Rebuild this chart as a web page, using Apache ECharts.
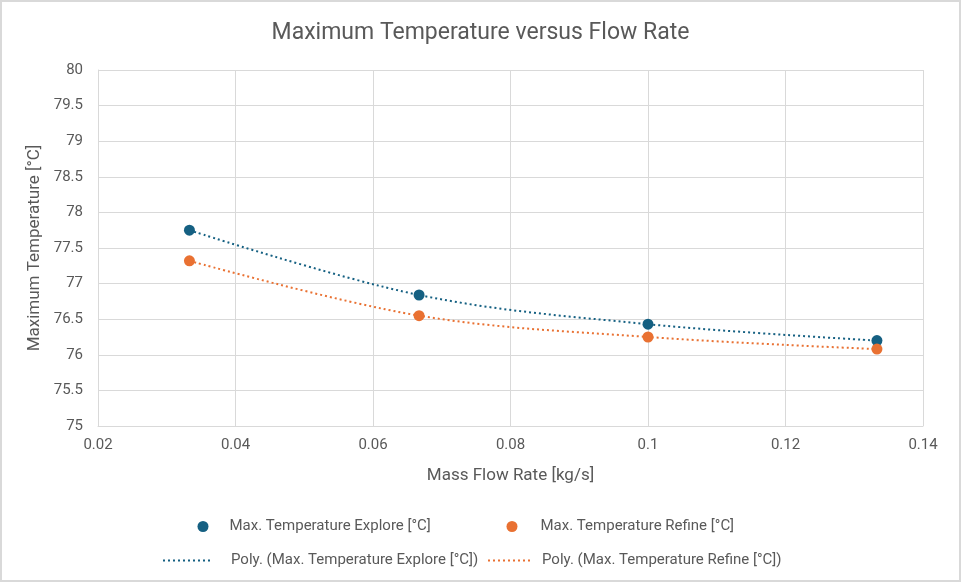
<!DOCTYPE html>
<html>
<head>
<meta charset="utf-8">
<script src="https://cdn.jsdelivr.net/npm/echarts@6/dist/echarts.min.js"></script>
<style>
  html, body { margin: 0; padding: 0; background: #fff; }
  #chart { width: 961px; height: 582px; }
</style>
</head>
<body>
<div id="chart"></div>
<script>
// mass flow rate [kg/s]
const flowRate = [0.0333, 0.0667, 0.1, 0.1333];
// max temperature [°C]
const tempExplore = [77.75, 76.84, 76.43, 76.20];
const tempRefine = [77.32, 76.55, 76.25, 76.08];

const nameExplore = 'Max. Temperature Explore [°C]';
const nameRefine = 'Max. Temperature Refine [°C]';
const namePolyExplore = 'Poly. (Max. Temperature Explore [°C])';
const namePolyRefine = 'Poly. (Max. Temperature Refine [°C])';

const blue = '#156082';
const orange = '#E97132';
const textGray = '#595959';
const gridGray = '#d9d9d9';
const font = 'Roboto';
const dotted = [2, 3];

const pairs = (xs, ys) => xs.map((x, i) => [x, ys[i]]);

let chart = echarts.init(document.getElementById('chart'), null, { renderer: 'canvas' });

// 每个图例单独摆放，模仿 Excel 的两行两列布局
function legendItem(name, left, top, w, h, padLeft, isLine) {
    let lg = {
        data: [{ name: name }],
        left: left,
        top: top,
        itemWidth: w,
        itemHeight: h,
        itemGap: 0,
        padding: 0,
        textStyle: { color: textGray, fontSize: 15, fontFamily: font, padding: [0, 0, 0, padLeft] }
    };
    if (isLine) {
        lg.itemStyle = { opacity: 0 };
        lg.lineStyle = { type: dotted, width: 2 };
    } else {
        lg.data[0].icon = 'circle';
    }
    return lg;
}

let option = {
    animation: false,
    backgroundColor: '#fff',
    textStyle: { fontFamily: font },
    title: {
        text: 'Maximum Temperature versus Flow Rate',
        left: 'center',
        top: 17,
        textStyle: { color: textGray, fontSize: 23, fontWeight: 'normal', fontFamily: font }
    },
    graphic: [{
        type: 'rect',
        shape: { x: 1, y: 1, width: 959, height: 580 },
        style: { fill: 'none', stroke: gridGray, lineWidth: 2 },
        silent: true
    }],
    grid: { left: 98, right: 38, top: 70, bottom: 156 },
    xAxis: {
        type: 'value',
        min: 0.02,
        max: 0.14,
        interval: 0.02,
        name: 'Mass Flow Rate [kg/s]',
        nameLocation: 'middle',
        nameGap: 41,
        nameTextStyle: { color: textGray, fontSize: 17, fontFamily: font },
        axisLine: { show: true, lineStyle: { color: gridGray, width: 1 } },
        axisTick: { show: false },
        axisLabel: {
            color: textGray, fontSize: 15, fontFamily: font, margin: 12,
            formatter: v => String(Math.round(v * 100) / 100)
        },
        splitLine: { show: true, lineStyle: { color: gridGray, width: 1 } }
    },
    yAxis: {
        type: 'value',
        min: 75,
        max: 80,
        interval: 0.5,
        name: 'Maximum Temperature [°C]',
        nameLocation: 'middle',
        nameGap: 50,
        nameTextStyle: { color: textGray, fontSize: 17, fontFamily: font },
        axisLine: { show: true, lineStyle: { color: gridGray, width: 1 } },
        axisTick: { show: false },
        axisLabel: { color: textGray, fontSize: 15, fontFamily: font, margin: 15 },
        splitLine: { show: true, lineStyle: { color: gridGray, width: 1 } }
    },
    legend: [
        legendItem(nameExplore, 197.5, 519, 11, 11, 16, false),
        legendItem(nameRefine, 506.5, 519, 11, 11, 18, false),
        legendItem(namePolyExplore, 162, 553, 48, 12, 15, true),
        legendItem(namePolyRefine, 487, 553, 45, 12, 4, true)
    ],
    series: [
        {
            name: namePolyExplore,
            type: 'line',
            data: pairs(flowRate, tempExplore),
            smooth: 0.35,
            symbol: 'none',
            z: 2,
            itemStyle: { color: blue },
            lineStyle: { color: blue, width: 2, type: dotted }
        },
        {
            name: namePolyRefine,
            type: 'line',
            data: pairs(flowRate, tempRefine),
            smooth: 0.35,
            symbol: 'none',
            z: 2,
            itemStyle: { color: orange },
            lineStyle: { color: orange, width: 2, type: dotted }
        },
        {
            name: nameExplore,
            type: 'scatter',
            data: pairs(flowRate, tempExplore),
            symbol: 'circle',
            symbolSize: 11,
            z: 3,
            itemStyle: { color: blue, opacity: 1 }
        },
        {
            name: nameRefine,
            type: 'scatter',
            data: pairs(flowRate, tempRefine),
            symbol: 'circle',
            symbolSize: 11,
            z: 3,
            itemStyle: { color: orange, opacity: 1 }
        }
    ]
};

chart.setOption(option);
</script>
</body>
</html>
